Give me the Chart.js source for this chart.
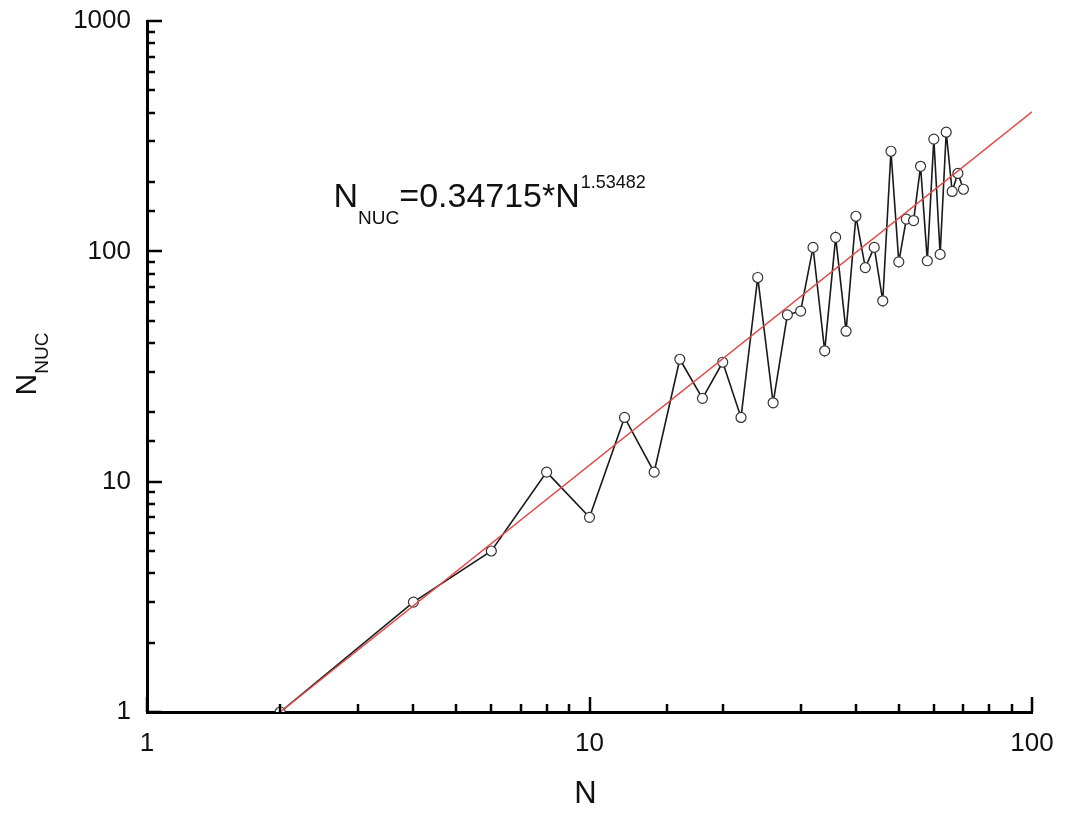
<!DOCTYPE html>
<html>
<head>
<meta charset="utf-8">
<script src="https://cdn.jsdelivr.net/npm/chart.js@4.4.1/dist/chart.umd.min.js"></script>
<style>
  html, body { margin: 0; padding: 0; background: #fff; }
</style>
</head>
<body>
<canvas id="chart" width="1066" height="820"></canvas>
<script>
  // N values (x) and N_NUC values (y)
  const nValues = [2, 4, 6, 8, 10, 12, 14, 16, 18, 20, 22, 24, 26, 28, 30, 32, 34, 36,
    38, 40, 42, 44, 46, 48, 50, 52, 54, 56, 58, 60, 62, 64, 66, 68, 70];
  const nucValues = [1, 3, 5, 11, 7, 19, 11, 34, 23, 33, 19, 77, 22, 53, 55, 104, 37, 115,
    45, 142, 85, 104, 61, 272, 90, 138, 136, 234, 91, 307, 97, 329, 182, 218, 186];

  // power-law fit, end points as drawn
  const fitN = [2, 100];
  const fitNuc = [1.0, 403];

  const xTickLabels = ["1", "10", "100"];
  const yTickLabels = ["1", "10", "100", "1000"];

  const xTitle = "N";
  const yTitle = { main: "N", sub: "NUC" };
  const equation = { main: "N", sub: "NUC", rest: "=0.34715*N", sup: "1.53482" };

  const FONT = '"Liberation Sans", Arial, Helvetica, sans-serif';

  function isDecade(v) {
    const l = Math.log10(v);
    return Math.abs(l - Math.round(l)) < 1e-9;
  }

  function toPoints(xs, ys) {
    return xs.map((x, i) => ({ x: x, y: ys[i] }));
  }

  // ticks point inward, into the plot, like the original
  const inwardTicks = {
    id: "inwardTicks",
    afterDraw(chart) {
      const ctx = chart.ctx;
      const area = chart.chartArea;
      const xs = chart.scales.x;
      const ys = chart.scales.y;
      ctx.save();
      ctx.strokeStyle = "#000";
      ctx.lineWidth = 2.5;
      xs.ticks.forEach((t) => {
        const px = Math.round(xs.getPixelForValue(t.value));
        const len = isDecade(t.value) ? 15 : 8;
        ctx.beginPath();
        ctx.moveTo(px, area.bottom);
        ctx.lineTo(px, area.bottom - len);
        ctx.stroke();
      });
      ys.ticks.forEach((t) => {
        const py = Math.round(ys.getPixelForValue(t.value));
        const len = isDecade(t.value) ? 15 : 8;
        ctx.beginPath();
        ctx.moveTo(area.left, py);
        ctx.lineTo(area.left + len, py);
        ctx.stroke();
      });
      ctx.restore();
    },
  };

  // axis titles and the fit equation, with sub/superscripts
  const textLayer = {
    id: "textLayer",
    afterDraw(chart) {
      const ctx = chart.ctx;
      const area = chart.chartArea;
      const xs = chart.scales.x;
      const ys = chart.scales.y;
      ctx.save();
      ctx.fillStyle = "#111";
      ctx.textBaseline = "alphabetic";

      // x title
      ctx.font = "31px " + FONT;
      ctx.textAlign = "center";
      ctx.fillText(xTitle, (area.left + area.right) / 2 - 4, 803);

      // y title, rotated
      ctx.textAlign = "left";
      ctx.font = "30px " + FONT;
      const wN = ctx.measureText(yTitle.main).width;
      ctx.font = "19px " + FONT;
      const wSub = ctx.measureText(yTitle.sub).width;
      ctx.translate(36, 364);
      ctx.rotate(-Math.PI / 2);
      let cx = -(wN + wSub) / 2;
      ctx.font = "30px " + FONT;
      ctx.fillText(yTitle.main, cx, 0);
      cx += wN;
      ctx.font = "19px " + FONT;
      ctx.fillText(yTitle.sub, cx, 12);
      ctx.setTransform(1, 0, 0, 1, 0, 0);

      // equation, anchored in data space
      let ex = xs.getPixelForValue(2.64);
      const ey = ys.getPixelForValue(155);
      ctx.font = "34px " + FONT;
      ctx.fillText(equation.main, ex, ey);
      ex += ctx.measureText(equation.main).width;
      ctx.font = "19px " + FONT;
      ctx.fillText(equation.sub, ex, ey + 17);
      ex += ctx.measureText(equation.sub).width;
      ctx.font = "34px " + FONT;
      ctx.fillText(equation.rest, ex, ey);
      ex += ctx.measureText(equation.rest).width + 1;
      ctx.font = "18px " + FONT;
      ctx.fillText(equation.sup, ex, ey - 19);
      ctx.restore();
    },
  };

  const tickFont = { family: FONT, size: 26 };

  new Chart(document.getElementById("chart"), {
    type: "scatter",
    data: {
      datasets: [
        {
          label: "fit",
          data: toPoints(fitN, fitNuc),
          showLine: true,
          borderColor: "rgb(228, 72, 72)",
          borderWidth: 1.5,
          pointRadius: 0,
          pointHoverRadius: 0,
        },
        {
          label: "N_NUC",
          data: toPoints(nValues, nucValues),
          showLine: true,
          borderColor: "#1a1a1a",
          borderWidth: 1.6,
          pointRadius: 5,
          pointBorderWidth: 1.2,
          pointBorderColor: "#333",
          pointBackgroundColor: "#fff",
        },
      ],
    },
    options: {
      responsive: false,
      animation: false,
      layout: { padding: { left: 0, top: 21, right: 34, bottom: 0 } },
      plugins: {
        legend: { display: false },
        tooltip: { enabled: false },
      },
      scales: {
        x: {
          type: "logarithmic",
          min: 1,
          max: 100,
          afterFit: (scale) => {
            scale.height = 108;
            scale.paddingLeft = 0;
            scale.paddingRight = 0;
          },
          grid: { display: false, drawTicks: false },
          border: { display: true, color: "#000", width: 3 },
          ticks: {
            autoSkip: false,
            maxRotation: 0,
            padding: 16,
            color: "#111",
            font: tickFont,
            callback: (v) => (isDecade(v) ? xTickLabels[Math.round(Math.log10(v))] : ""),
          },
        },
        y: {
          type: "logarithmic",
          min: 1,
          max: 1000,
          afterFit: (scale) => {
            scale.width = 147;
            scale.paddingTop = 0;
            scale.paddingBottom = 0;
          },
          grid: { display: false, drawTicks: false },
          border: { display: true, color: "#000", width: 3 },
          ticks: {
            autoSkip: false,
            padding: 16,
            color: "#111",
            font: tickFont,
            callback: (v) => (isDecade(v) ? yTickLabels[Math.round(Math.log10(v))] : ""),
          },
        },
      },
    },
    plugins: [inwardTicks, textLayer],
  });
</script>
</body>
</html>
